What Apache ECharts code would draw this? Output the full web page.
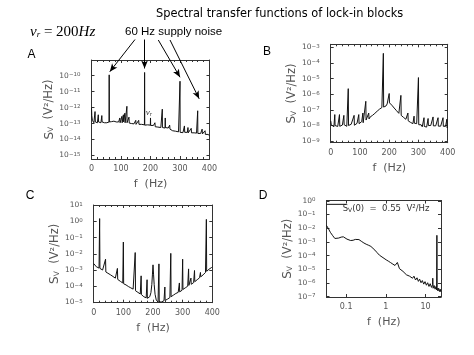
<!DOCTYPE html>
<html><head><meta charset="utf-8">
<script src="https://cdn.jsdelivr.net/npm/echarts/dist/echarts.min.js"></script>
<style>html,body{margin:0;padding:0;background:#fff}#c{width:474px;height:355px}</style>
</head><body><div id="c"></div>
<script>
// ---- data: [frequency (Hz), log10 Sv (V^2/Hz)] ----
const specA = [[0,-12.0],[1,-12.5],[3,-12.8],[5,-12.85],[8,-12.95],[11,-12.9],[12,-12.25],[13,-12.9],[16,-12.85],[20,-12.95],[23,-12.45],[24,-12.9],[28,-12.85],[32,-12.95],[35,-12.5],[36,-12.9],[40,-12.85],[44,-12.95],[48,-12.88],[52,-12.95],[56,-12.85],[59.5,-12.9],[60,-9.95],[60.5,-12.9],[64,-12.95],[68,-12.88],[72,-12.95],[76,-12.85],[80,-12.95],[84,-12.9],[88,-12.97],[92,-12.9],[96,-12.65],[97,-12.95],[100,-12.9],[103,-12.55],[104,-12.95],[108,-12.45],[109,-12.9],[113,-12.35],[114,-12.95],[117,-12.9],[119.5,-12.95],[120,-11.92],[120.5,-12.95],[124,-12.9],[127,-12.6],[128,-12.97],[132,-13.05],[136,-13.0],[140,-13.08],[144,-13.02],[148,-13.1],[150,-12.8],[151,-13.05],[155,-13.1],[160,-12.8],[161,-13.05],[165,-13.12],[170,-13.05],[175,-13.1],[179.5,-13.08],[180,-9.8],[180.5,-13.1],[185,-13.12],[190,-13.08],[195,-13.15],[199.5,-13.1],[200,-12.65],[200.5,-13.12],[205,-13.18],[210,-13.12],[215,-12.95],[216,-13.2],[220,-13.15],[225,-13.22],[230,-13.18],[235,-13.25],[239.5,-13.2],[240,-12.1],[240.5,-13.25],[245,-13.22],[249.5,-13.28],[250,-12.65],[250.5,-13.25],[255,-13.3],[260,-13.28],[265,-13.1],[266,-13.35],[270,-13.4],[275,-13.45],[280,-13.5],[285,-13.48],[290,-13.55],[295,-13.52],[299.5,-13.55],[300,-10.35],[300.5,-13.55],[305,-13.5],[310,-13.57],[315,-13.15],[316,-13.55],[320,-13.6],[325,-13.55],[327,-13.25],[328,-13.58],[333,-13.6],[338,-13.3],[339,-13.58],[344,-13.62],[348,-13.58],[352,-13.65],[356,-13.6],[359.5,-13.62],[360,-12.2],[360.5,-13.62],[365,-13.68],[370,-13.62],[375,-13.35],[376,-13.65],[380,-13.7],[385,-13.45],[386,-13.68],[390,-13.72],[395,-13.68],[400,-13.75]];

const specB = [[0,-7.7],[2,-7.95],[5,-8.05],[8,-7.95],[11,-8.08],[14,-7.3],[15,-8.0],[18,-8.08],[21,-7.95],[24,-8.06],[27,-7.95],[30,-7.3],[31,-8.05],[34,-7.95],[37,-8.08],[40,-7.97],[43,-8.05],[45,-7.35],[46,-7.95],[49,-8.06],[52,-7.95],[55,-8.05],[58,-7.95],[60,-5.64],[61,-8.0],[64,-7.92],[67,-8.04],[70,-7.92],[73,-8.02],[76,-7.9],[80,-7.35],[81,-7.98],[84,-7.88],[87,-7.98],[90,-7.86],[93,-7.96],[96,-7.3],[97,-7.88],[100,-7.8],[103,-7.9],[106,-7.75],[110,-7.2],[111,-7.82],[114,-7.7],[117,-7.78],[120,-6.45],[121,-7.65],[124,-7.72],[127,-7.55],[130,-7.2],[131,-7.58],[135,-7.45],[139,-7.5],[143,-7.35],[147,-7.38],[151,-7.22],[155,-7.25],[159,-7.08],[163,-7.1],[167,-6.95],[171,-6.98],[175,-6.85],[179,-6.88],[180,-3.38],[181,-6.82],[185,-6.72],[189,-6.75],[193,-6.62],[197,-6.6],[200,-5.95],[201,-6.55],[205,-6.58],[209,-6.7],[213,-6.75],[217,-6.88],[221,-6.95],[225,-7.05],[229,-7.1],[233,-7.22],[237,-7.25],[240,-6.07],[241,-7.35],[245,-7.38],[249,-7.48],[253,-7.5],[257,-7.6],[261,-7.58],[264,-7.2],[265,-7.7],[269,-7.68],[273,-7.8],[277,-7.78],[281,-7.88],[285,-7.4],[286,-7.85],[290,-7.95],[294,-7.88],[298,-8.0],[300,-4.93],[301,-7.95],[305,-8.05],[309,-7.95],[313,-8.08],[317,-7.98],[319,-7.5],[320,-8.06],[324,-7.98],[328,-8.1],[333,-7.55],[334,-8.0],[338,-8.1],[342,-8.0],[346,-8.12],[350,-7.45],[351,-8.02],[355,-8.12],[359,-8.02],[363,-8.14],[367,-7.5],[368,-8.04],[372,-8.14],[376,-8.04],[380,-8.15],[384,-7.5],[385,-8.05],[389,-8.15],[393,-8.05],[397,-7.6],[398,-8.15],[400,-8.1]];

const specC = [[0,-2.6],[3,-2.72],[6,-2.7],[9,-2.8],[12,-2.78],[15,-2.85],[18,-2.88],[20,0.18],[21,-2.9],[24,-2.95],[27,-2.98],[30,-3.0],[33,-3.05],[36,-3.08],[40,-2.33],[41,-3.12],[44,-3.15],[48,-3.2],[53,-3.1],[54,-3.28],[57,-3.3],[61,-3.36],[65,-3.4],[69,-3.45],[73,-3.5],[77,-3.52],[80,-2.9],[81,-3.58],[85,-3.5],[86,-3.62],[90,-3.7],[94,-3.75],[98,-3.8],[100,-1.27],[101,-3.85],[105,-3.88],[109,-3.92],[113,-3.98],[117,-4.02],[121,-4.05],[125,-4.1],[129,-4.15],[133,-4.18],[137,-4.22],[140,-1.92],[141,-4.28],[145,-4.3],[149,-4.38],[153,-4.42],[157,-4.48],[160,-3.36],[161,-4.52],[165,-4.6],[169,-4.65],[173,-4.7],[177,-4.72],[180,-3.6],[181,-4.75],[185,-4.75],[189,-4.65],[193,-4.4],[196,-3.9],[198,-3.3],[200,-2.68],[202,-3.3],[204,-3.9],[207,-4.5],[211,-4.85],[214,-4.95],[217,-4.98],[220,-2.62],[221,-4.98],[225,-5.0],[229,-4.97],[233,-4.93],[237,-4.9],[240,-4.05],[241,-4.88],[245,-4.85],[249,-4.8],[253,-4.75],[257,-4.7],[260,-1.97],[261,-4.65],[265,-4.6],[269,-4.55],[273,-4.5],[277,-4.45],[281,-4.42],[285,-4.38],[289,-3.8],[290,-4.35],[294,-4.3],[298,-4.25],[300,-2.33],[301,-4.2],[305,-4.15],[309,-4.1],[313,-4.05],[317,-4.0],[320,-2.93],[321,-3.95],[325,-3.9],[328,-3.5],[329,-3.88],[333,-3.82],[337,-3.78],[340,-3.03],[341,-3.72],[345,-3.65],[349,-3.6],[353,-3.55],[357,-3.48],[360,-3.15],[361,-3.42],[365,-3.35],[369,-3.3],[373,-3.22],[377,-3.15],[380,0.13],[381,-3.08],[385,-3.02],[389,-2.95],[393,-2.9],[397,-2.85],[400,-2.8]];

const specD = [[0.032,-1.8],[0.036,-2.05],[0.04,-2.3],[0.046,-2.55],[0.052,-2.75],[0.058,-2.8],[0.065,-2.72],[0.075,-2.65],[0.085,-2.63],[0.095,-2.7],[0.105,-2.8],[0.115,-2.86],[0.13,-2.9],[0.15,-2.88],[0.17,-2.82],[0.19,-2.78],[0.21,-2.83],[0.24,-2.95],[0.28,-3.08],[0.32,-3.17],[0.37,-3.25],[0.42,-3.33],[0.47,-3.42],[0.53,-3.6],[0.6,-3.78],[0.69,-3.97],[0.8,-4.1],[0.9,-4.2],[1.02,-4.31],[1.15,-4.4],[1.3,-4.5],[1.5,-4.62],[1.7,-4.72],[1.85,-4.6],[1.95,-4.5],[2.05,-4.62],[2.2,-4.95],[2.4,-5.05],[2.7,-5.15],[3.0,-5.25],[3.3,-5.4],[3.6,-5.3],[3.95,-5.5],[4.3,-5.4],[4.7,-5.65],[5.1,-5.5],[5.6,-5.78],[6.1,-5.62],[6.6,-5.88],[7.1,-5.72],[7.7,-5.98],[8.3,-5.82],[9.0,-6.08],[9.7,-5.9],[10.5,-6.16],[11.3,-5.98],[12.2,-6.25],[13.1,-6.05],[14.1,-6.32],[15.0,-6.12],[15.2,-5.65],[15.5,-6.38],[16.4,-6.18],[17.4,-6.45],[18.4,-6.25],[19.0,-6.5],[19.3,-2.52],[19.6,-6.32],[20.5,-6.58],[21.4,-6.38],[22.4,-6.62],[23.4,-6.45],[24.2,-6.65]];

const sv0Line = [[0.032, 0.55], [0.1, 0.55]];   // Sv(0) level, V^2/Hz
const freqTicks = [0, 100, 200, 300, 400];

// ---- helpers ----
const T = '#555', K = '#333';
const FF = 'DejaVu Sans';
const toPts = s => s.map(p => [p[0], Math.pow(10, p[1])]);
function powLabel(v) {
  const e = Math.log10(v), r = Math.round(e);
  if (Math.abs(e - r) > 0.02) return '';
  return '{b|10}{s|' + (r < 0 ? '\u2212' : '') + Math.abs(r) + '}';
}
function freqLogLabel(v) {
  const e = Math.log10(v), r = Math.round(e);
  if (Math.abs(e - r) > 0.02) return '';
  return r < 0 ? Math.pow(10, r).toFixed(-r) : String(Math.pow(10, r));
}
const richLab = { b: {fontSize: 7.5, color: T, fontFamily: FF}, s: {fontSize: 5.5, color: T, fontFamily: FF, verticalAlign: 'top'} };
const grids = [
  {left: 91.5, top: 60, width: 118, height: 99},
  {left: 330.7, top: 44.3, width: 117, height: 98.4},
  {left: 93.7, top: 205, width: 118.6, height: 97.7},
  {left: 326.5, top: 200.5, width: 114.5, height: 96.5}
];
const yRange = [[-15.22, -9.02], [-9.1, -2.8], [-5.02, 1.02], [-7.02, 0.02]];
const yNameGap = [30, 28, 28, 27];

const xAxes = [], yAxes = [];
grids.forEach((g, i) => {
  const isLogX = i === 3;
  const xBase = {
    gridIndex: i, type: isLogX ? 'log' : 'value',
    min: isLogX ? 0.032 : freqTicks[0], max: isLogX ? 24.5 : freqTicks[freqTicks.length - 1],
    splitLine: {show: false}, minorSplitLine: {show: false},
    axisLine: {show: true, onZero: false, lineStyle: {color: K, width: 1}},
    axisTick: {show: true, inside: true, length: 3, lineStyle: {color: K}},
    minorTick: {show: !isLogX, inside: true, splitNumber: 5, length: 2, lineStyle: {color: K}}
  };
  if (!isLogX) xBase.interval = 100;
  xAxes.push(Object.assign({}, xBase, {
    position: 'bottom',
    axisLabel: {fontSize: 8, color: T, fontFamily: FF, margin: 6, formatter: isLogX ? freqLogLabel : undefined},
    name: 'f  (Hz)', nameLocation: 'middle', nameGap: 20,
    nameTextStyle: {fontSize: 11, color: T, fontFamily: FF}
  }));
  xAxes.push(Object.assign({}, xBase, {position: 'top', axisLabel: {show: false}}));
  const yBase = {
    gridIndex: i, type: 'log', logBase: 10,
    min: Math.pow(10, yRange[i][0]), max: Math.pow(10, yRange[i][1]),
    splitLine: {show: false},
    axisLine: {show: true, onZero: false, lineStyle: {color: K, width: 1}},
    axisTick: {show: true, inside: true, length: 3, lineStyle: {color: K}}
  };
  yAxes.push(Object.assign({}, yBase, {
    position: 'left',
    axisLabel: {formatter: powLabel, rich: richLab, margin: 11},
    name: '{s|S}{v|V}{t|  (V\u00b2/Hz)}', nameLocation: 'middle', nameGap: yNameGap[i],
    nameTextStyle: {rich: {
      s: {fontSize: 12, color: T, fontFamily: FF},
      v: {fontSize: 7.5, color: T, fontFamily: FF, verticalAlign: 'bottom'},
      t: {fontSize: 11.5, color: T, fontFamily: FF}
    }}
  }));
  yAxes.push(Object.assign({}, yBase, {position: 'right', axisLabel: {show: false}}));
});

const lineSty = {width: 1, color: '#111'};
const specs = [specA, specB, specC, specD];
const series = specs.map((s, i) => ({
  type: 'line', xAxisIndex: 2 * i, yAxisIndex: 2 * i, data: toPts(s),
  symbol: 'none', showSymbol: false, lineStyle: lineSty, color: '#111', silent: true, clip: i !== 0
}));
// 60 Hz supply-noise arrows, anchored at the harmonics of panel A
series[0].markLine = {
  silent: true, symbol: ['none', 'arrow'], symbolSize: [5, 8], animation: false,
  label: {show: false}, lineStyle: {type: 'solid', color: '#000', width: 1},
  emphasis: {disabled: true},
  data: [
    [{x: 135, y: 39.5}, {coord: [62, Math.pow(10, -9.75)]}],
    [{x: 144.3, y: 39.5}, {coord: [180, Math.pow(10, -9.55)]}],
    [{x: 158.3, y: 40}, {coord: [300, Math.pow(10, -10.1)]}],
    [{x: 170, y: 40}, {coord: [365, Math.pow(10, -11.45)]}]
  ]
};
series.push({
  type: 'line', xAxisIndex: 6, yAxisIndex: 6, data: sv0Line,
  symbol: 'none', showSymbol: false, lineStyle: lineSty, color: '#111', silent: true
});

function txt(x, y, text, font, align, extra) {
  return Object.assign({type: 'text', x: x, y: y, silent: true,
    style: Object.assign({text: text, font: font, fill: '#000', align: align || 'left', verticalAlign: 'middle',
      textAlign: align || 'left', textVerticalAlign: 'middle'}, extra || {})}, {});
}
const graphic = [
  txt(156, 14, 'Spectral transfer functions of lock-in blocks', '11.4px "DejaVu Sans"'),
  txt(30, 32, '{i|\u03bd}{sub|r}{n| = 200}{i|Hz}', '14px "Liberation Serif"', 'left', {rich: {
    i: {fontFamily: 'Liberation Serif', fontStyle: 'italic', fontSize: 15, fill: '#000'},
    sub: {fontFamily: 'Liberation Serif', fontStyle: 'italic', fontSize: 9, fill: '#000', verticalAlign: 'bottom'},
    n: {fontFamily: 'Liberation Serif', fontSize: 15, fill: '#000'}
  }}),
  txt(125, 32, '60 Hz supply noise', '11.5px "Liberation Sans"'),
  txt(31.5, 55, 'A', '12px "Liberation Sans"', 'center'),
  txt(267, 51.5, 'B', '12px "Liberation Sans"', 'center'),
  txt(30, 195.5, 'C', '12px "Liberation Sans"', 'center'),
  txt(263, 196, 'D', '12px "Liberation Sans"', 'center'),
  txt(149, 113, '{i|\u03bd}{s|r}', '8px "Liberation Serif"', 'center', {rich: {
    i: {fontFamily: 'Liberation Serif', fontStyle: 'italic', fontSize: 9, fill: '#333'},
    s: {fontFamily: 'Liberation Serif', fontStyle: 'italic', fontSize: 6, fill: '#333', verticalAlign: 'bottom'}
  }}),
  txt(386, 209, '{a|S}{v|V}{a|(0)  =  0.55  V\u00b2/Hz}', '8.5px "DejaVu Sans"', 'center', {rich: {
    a: {fontFamily: FF, fontSize: 8.5, fill: '#333'},
    v: {fontFamily: FF, fontSize: 6, fill: '#333', verticalAlign: 'bottom'}
  }})
];

const chart = echarts.init(document.getElementById('c'), null, {renderer: 'canvas'});
chart.setOption({
  animation: false, backgroundColor: '#fff',
  textStyle: {fontFamily: FF},
  grid: grids.map(g => Object.assign({containLabel: false, show: false}, g)),
  xAxis: xAxes, yAxis: yAxes, series: series, graphic: graphic
});
</script></body></html>
